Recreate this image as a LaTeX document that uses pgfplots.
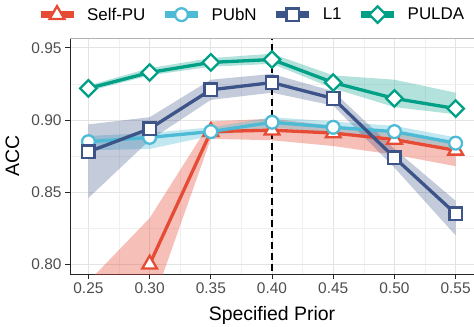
\documentclass[border=0pt]{standalone}
\usepackage{pgfplots}
\pgfplotsset{compat=1.18}
\usepackage{pgfplotstable}
\usepgfplotslibrary{fillbetween}
\usepackage{fontspec}
\setmainfont{Liberation Sans}
\definecolor{cRed}{HTML}{E64B35}
\definecolor{cCyan}{HTML}{4DBBD5}
\definecolor{cBlue}{HTML}{3C5488}
\definecolor{cGreen}{HTML}{00A087}
\definecolor{gridmaj}{HTML}{E3E3E3}
\definecolor{gridmin}{HTML}{F0F0F0}
\definecolor{tickgrey}{HTML}{4D4D4D}

\pgfplotstableread{
x m lo hi
0.25 nan 0.700 0.788
0.30 0.800 0.767 0.832
0.35 0.892 0.887 0.899
0.40 0.893 0.886 0.901
0.45 0.891 0.882 0.896
0.50 0.8865 0.876 0.892
0.55 0.879 0.868 0.884
}\selfpu
\pgfplotstableread{
x m lo hi
0.25 0.885 0.879 0.889
0.30 0.888 0.880 0.891
0.35 0.892 0.889 0.895
0.40 0.8985 0.895 0.902
0.45 0.895 0.891 0.899
0.50 0.892 0.888 0.896
0.55 0.884 0.880 0.888
}\pubn
\pgfplotstableread{
x m lo hi
0.25 0.878 0.846 0.897
0.30 0.894 0.886 0.902
0.35 0.921 0.914 0.928
0.40 0.926 0.919 0.932
0.45 0.915 0.910 0.920
0.50 0.874 0.867 0.880
0.55 0.835 0.820 0.844
}\lone
\pgfplotstableread{
x m lo hi
0.25 0.922 0.920 0.924
0.30 0.933 0.931 0.936
0.35 0.940 0.937 0.943
0.40 0.942 0.939 0.946
0.45 0.926 0.922 0.931
0.50 0.915 0.909 0.928
0.55 0.908 0.904 0.919
}\pulda

\begin{document}
\begin{tikzpicture}
\begin{axis}[
  name=ax,
  scale only axis,
  width=403.6bp, height=236bp,
  xmin=0.235, xmax=0.565, ymin=0.7931, ymax=0.9569,
  xtick={0.25,0.30,0.35,0.40,0.45,0.50,0.55},
  ytick={0.80,0.85,0.90,0.95},
  minor xtick={0.275,0.325,0.375,0.425,0.475,0.525},
  minor ytick={0.825,0.875,0.925},
  grid=both,
  major grid style={draw=gridmaj, line width=1bp},
  minor grid style={draw=gridmin, line width=0.6bp},
  axis x line*=bottom, axis y line*=left,
  axis line style={draw=black!85, line width=1bp, -},
  tick align=outside,
  major tick length=5bp, minor tick length=0bp,
  every tick/.style={black!85, line width=1bp},
  /pgf/number format/assume math mode=true,
  xticklabel style={/pgf/number format/.cd, fixed, fixed zerofill, precision=2},
  yticklabel style={/pgf/number format/.cd, fixed, fixed zerofill, precision=2},
  ticklabel style={font=\fontsize{15.5}{15.5}\selectfont, color=tickgrey},
  xlabel={Specified Prior}, ylabel={ACC},
  every axis x label/.style={at={(axis description cs:0.5,-0.198)}, anchor=base, font=\fontsize{19.5}{19.5}\selectfont},
  every axis y label/.style={at={(axis description cs:-0.1425,0.5)}, anchor=center, rotate=90, font=\fontsize{19.5}{19.5}\selectfont},
  legend columns=4,
  legend style={draw=none, fill=none, inner sep=0pt, outer sep=0pt,
    at={(axis description cs:-0.0818,1.0996)}, anchor=west,
    font=\fontsize{17}{17}\selectfont,
    nodes={inner sep=0pt},
    /tikz/every odd column/.append style={column sep=10bp},
    /tikz/every even column/.append style={column sep=16bp}},
  legend image code/.code={\draw[mark repeat=2, mark phase=2, #1] plot coordinates {(0bp,0bp) (16.5bp,0bp) (33bp,0bp)};},
  clip=true,
]
% ribbons
\addplot[name path=srlo, draw=none, forget plot] table[x=x,y=lo]{\selfpu};
\addplot[name path=srhi, draw=none, forget plot] table[x=x,y=hi]{\selfpu};
\addplot[fill=cRed, fill opacity=0.35, draw=none, forget plot] fill between[of=srlo and srhi];
\addplot[name path=pblo, draw=none, forget plot] table[x=x,y=lo]{\pubn};
\addplot[name path=pbhi, draw=none, forget plot] table[x=x,y=hi]{\pubn};
\addplot[fill=cCyan, fill opacity=0.35, draw=none, forget plot] fill between[of=pblo and pbhi];
\addplot[name path=l1lo, draw=none, forget plot] table[x=x,y=lo]{\lone};
\addplot[name path=l1hi, draw=none, forget plot] table[x=x,y=hi]{\lone};
\addplot[fill=cBlue, fill opacity=0.3, draw=none, forget plot] fill between[of=l1lo and l1hi];
\addplot[name path=pdlo, draw=none, forget plot] table[x=x,y=lo]{\pulda};
\addplot[name path=pdhi, draw=none, forget plot] table[x=x,y=hi]{\pulda};
\addplot[fill=cGreen, fill opacity=0.3, draw=none, forget plot] fill between[of=pdlo and pdhi];
% reference line
\addplot[black, line width=1.3bp, dash pattern=on 7bp off 4bp, forget plot] coordinates {(0.40,0.78) (0.40,0.97)};
% lines
\addplot[cRed, line width=3.3bp, forget plot] table[x=x,y=m]{\selfpu};
\addplot[cCyan, line width=3.3bp, forget plot] table[x=x,y=m]{\pubn};
\addplot[cBlue, line width=3.3bp, forget plot] table[x=x,y=m]{\lone};
\addplot[cGreen, line width=3.3bp, forget plot] table[x=x,y=m]{\pulda};
% points
\addplot[only marks, mark=triangle*, mark size=8.5bp, mark options={draw=cRed, fill=white, line width=2.3bp}, forget plot] table[x=x,y=m]{\selfpu};
\addplot[only marks, mark=*, mark size=6.4bp, mark options={draw=cCyan, fill=white, line width=2.3bp}, forget plot] table[x=x,y=m]{\pubn};
\addplot[only marks, mark=square*, mark size=6.2bp, mark options={draw=cBlue, fill=white, line width=2.3bp}, forget plot] table[x=x,y=m]{\lone};
\addplot[only marks, mark=square*, mark size=5.8bp, mark options={draw=cGreen, fill=white, line width=2.3bp, rotate=45}, forget plot] table[x=x,y=m]{\pulda};
% top border
\draw[color=black!30, line width=1bp] (rel axis cs:0,1) -- (rel axis cs:1,1);
% legend
\addlegendimage{cRed, line width=7bp, mark=triangle*, mark size=8.5bp, mark options={draw=cRed, fill=white, line width=2.3bp}}
\addlegendentry{Self-PU}
\addlegendimage{cCyan, line width=7bp, mark=*, mark size=6.4bp, mark options={draw=cCyan, fill=white, line width=2.3bp}}
\addlegendentry{PUbN}
\addlegendimage{cBlue, line width=7bp, mark=square*, mark size=6.2bp, mark options={draw=cBlue, fill=white, line width=2.3bp}}
\addlegendentry{L1}
\addlegendimage{cGreen, line width=7bp, mark=square*, mark size=5.8bp, mark options={draw=cGreen, fill=white, line width=2.3bp, rotate=45}}
\addlegendentry{PULDA}
\end{axis}
\pgfresetboundingbox
\path[use as bounding box] ([xshift=-70bp, yshift=-52bp]ax.south west) rectangle ([yshift=38bp]ax.north east);
\end{tikzpicture}
\end{document}
